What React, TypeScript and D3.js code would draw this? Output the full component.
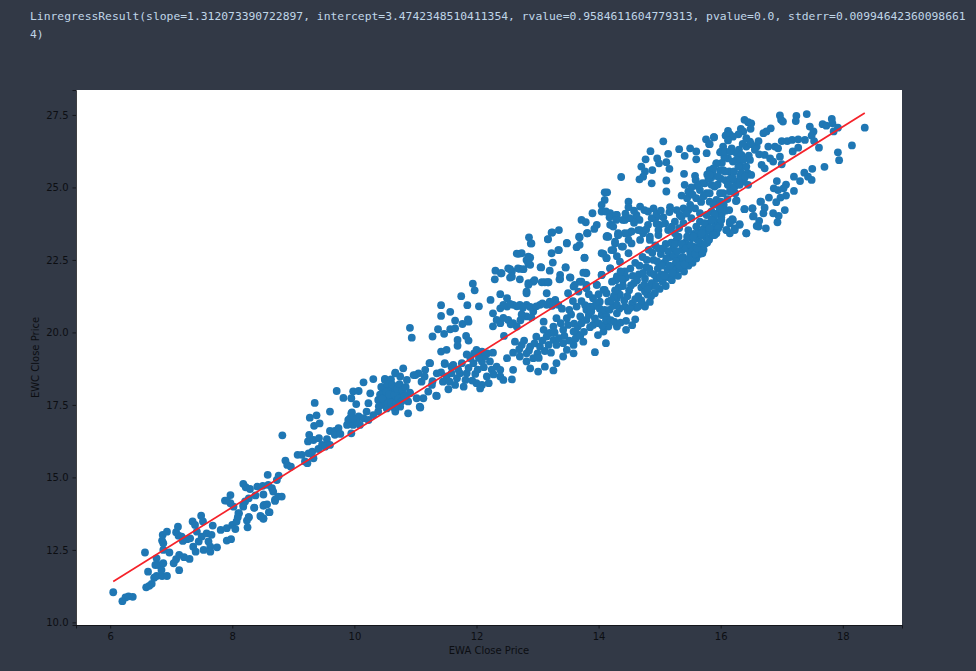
import React, { useRef, useEffect } from 'react';
import * as d3 from 'd3';

type Pair = [number, number];

// EWA close, EWC close, one list per stretch of the cloud
const tail: Pair[] = [
  [6.05,11.04],[6.2,10.73],[6.25,10.86],[6.3,10.9],[6.37,10.88],[6.57,12.41],[6.59,11.21],[6.64,11.26],[6.68,11.33],[6.62,11.75],
  [6.72,11.54],[6.76,11.6],[6.85,11.6],[6.93,11.6],[6.74,11.98],[6.76,12.21],[6.79,11.98],[6.87,12.04],[6.84,11.81],[6.87,12.5],
  [6.97,12.41],[6.85,12.82],[6.87,12.73],[6.86,13.02],[6.93,13.13],[7.08,13.11],[7.11,13.3],[7.12,12.99],[7.17,12.96],[7.19,12.81],
  [7.04,12.04],[7.08,12.18],[7.13,12.33],[7.13,11.8],[7.21,12.25],[7.3,12.19],[7.26,12.87],[7.31,12.9],[7.35,13.48],[7.39,13.36],
  [7.49,13.68],[7.52,13.48],[7.42,13.13],[7.36,12.61],[7.4,12.44],[7.45,12.79],[7.5,12.96],[7.53,12.5],[7.58,13.07],[7.66,13.02],
  [7.68,13.34],[7.61,12.79],[7.64,12.61],[7.64,12.44],[7.75,12.59],[7.81,13.19],[7.91,13.25],[7.91,12.82],[7.98,12.87],[8.0,13.36],
  [8.05,13.22],[8.07,13.48],[8.11,13.76],[8.18,13.99],[8.24,13.51],[8.27,13.63],[8.25,13.28],[8.36,13.95],[8.47,13.65],[8.51,13.57],
  [8.6,13.8],[8.52,14.05],[8.7,14.19],[7.88,14.2],[7.97,14.11],
];

const lowerMiddle: Pair[] = [
  [8.82,16.45],[9.27,17.06],[9.38,17.14],[9.6,17.27],[9.34,16.78],[9.43,16.86],[7.97,14.39],[7.91,14.2],[8.02,13.99],[8.1,13.77],
  [8.09,13.63],[8.27,13.63],[8.36,13.96],[8.51,14.41],[8.51,14.02],[8.57,14.07],[8.61,13.8],[8.46,13.67],[8.51,13.59],[8.18,14.78],
  [8.22,14.66],[8.29,14.6],[8.27,14.28],[8.18,14.05],[8.21,14.17],[8.38,14.38],[8.41,14.68],[8.5,14.71],[8.59,14.74],[8.58,15.09],
  [8.65,14.63],[8.67,14.51],[8.7,14.23],[8.75,14.34],[8.81,14.34],[8.73,14.91],[8.76,15.06],[8.87,15.58],[8.9,15.43],[8.96,15.37],
  [9.07,15.78],[9.14,15.78],[9.19,15.55],[9.23,15.49],[9.25,15.83],[9.31,15.89],[9.33,15.66],[9.41,15.98],[9.47,16.12],[9.55,16.32],
  [9.52,16.06],[9.6,16.12],[9.24,16.24],[9.26,16.47],[9.33,16.29],[9.42,16.35],[9.6,16.6],[9.68,16.6],[9.74,16.7],[9.68,16.47],
  [9.77,16.5],[9.88,16.81],[9.9,16.98],[9.95,17.21],[9.95,16.52],[9.98,16.81],[10.07,17.1],[10.09,16.81],[10.04,16.93],[10.15,17.04],
  [10.23,16.98],[10.2,17.27],[10.31,17.15],[10.39,17.27],[9.93,17.04],[9.98,17.04],[9.35,17.57],[9.71,17.98],[9.82,17.74],[9.98,17.97],
  [10.07,17.98],[10.15,18.28],[9.95,17.73],[10.03,17.53],[10.26,17.9],[10.31,18.39],[10.23,17.56],[9.96,17.24],
];

const middleChain: Pair[] = [
  [10.39,17.67],[10.48,17.9],[10.56,18.13],[10.67,18.13],[10.75,17.9],[10.64,17.79],[10.53,17.67],[10.45,17.5],[10.61,18.0],[10.5,18.36],
  [10.67,18.59],[10.8,18.76],[10.75,18.48],[10.86,18.36],[11.0,18.53],[11.05,18.59],[11.16,18.71],[11.23,18.94],[11.35,18.59],[10.91,17.9],
  [10.88,17.62],[10.75,17.44],[10.67,17.27],[10.88,17.21],[11.08,17.41],[11.13,17.73],[11.34,17.82],[11.21,17.96],[11.27,18.19],[11.54,18.04],
  [11.65,18.19],[11.79,18.13],[11.51,18.48],[11.59,18.59],[11.73,18.59],[11.84,18.59],[11.98,18.57],[12.09,18.19],[12.0,18.25],[12.06,18.07],
  [12.17,18.48],[12.2,18.25],[11.48,18.91],[11.62,18.88],[11.76,18.94],[11.9,19.11],[12.0,19.4],[12.09,19.34],[11.95,18.94],[12.09,19.0],
  [12.22,19.0],[12.27,19.3],[12.33,18.82],[12.39,18.71],[12.39,18.48],[12.44,18.36],[12.58,18.38],[12.6,18.71],[12.5,19.11],[12.6,19.3],
  [12.71,19.17],[12.82,19.0],[12.88,18.76],[13.01,18.65],[13.12,18.82],[13.26,18.69],[13.31,18.94],[13.42,19.17],[13.59,19.28],[13.94,19.32],
  [14.12,19.63],[14.45,20.09],[11.35,17.81],[11.07,17.44],[10.91,17.92],[11.02,17.73],[10.47,18.02],[10.58,18.07],[10.67,17.96],[10.75,17.84],
  [10.5,17.79],[10.58,17.67],[10.69,17.67],[10.47,17.56],[10.64,17.5],[10.53,17.38],[10.5,18.4],[10.6,18.38],[10.67,18.61],[10.97,18.53],
  [11.24,18.94],[11.48,18.94],[11.59,18.82],
  // packed knot around 10.6 and the run on to 12.4
  [10.42,17.85],[10.44,18.12],[10.46,17.72],[10.52,17.95],[10.54,18.22],[10.55,17.55],[10.57,17.86],[10.6,17.58],[10.62,18.2],[10.63,17.43],
  [10.66,17.85],[10.68,17.55],[10.7,18.05],[10.72,17.72],[10.74,18.22],[10.77,17.62],[10.79,18.0],[10.82,17.8],[10.84,18.12],[10.4,17.45],
  [11.1,18.3],[11.15,18.48],[11.28,18.32],[11.42,18.62],[11.45,18.3],[11.56,18.3],[11.68,18.42],[11.7,18.72],[11.82,18.36],[11.87,18.78],
  [11.93,18.34],[12.02,18.72],[12.12,18.8],[12.14,19.18],[12.18,19.28],[12.25,18.72],[12.28,18.55],[12.04,19.12],[11.84,19.24],[11.96,19.28],
];

const middleUpper: Pair[] = [
  [10.91,20.16],[10.94,19.82],[11.28,19.86],[11.37,20.11],[11.42,20.94],[11.42,20.57],[11.57,20.71],[11.65,20.41],[11.47,19.95],[11.57,20.11],
  [11.65,20.14],[11.77,20.29],[11.86,20.45],[11.87,20.37],[11.83,19.88],[11.87,19.72],[11.69,19.74],[11.69,19.54],[11.75,21.25],[11.85,20.94],
  [12.04,20.9],[11.94,21.68],[11.97,21.45],[11.51,19.4],[11.42,19.34],[12.23,21.12],[12.27,20.66],[12.27,20.21],[12.33,20.43],[12.39,20.32],
  [12.45,19.88],[12.39,21.32],[12.39,20.83],[12.5,21.18],[12.6,20.95],[12.5,20.89],[12.71,20.95],[12.82,20.95],[12.93,20.72],[12.82,20.55],
  [12.52,20.43],[12.6,20.32],[12.66,20.2],[12.82,21.35],[13.04,20.95],[13.15,20.95],[13.29,21.12],[13.34,20.95],[13.15,21.35],[12.85,21.7],
  [12.93,21.75],[13.07,21.73],[13.17,21.73],[12.71,21.83],[12.3,21.83],[12.31,22.13],[12.4,22.04],[12.52,22.21],[12.55,21.89],[12.58,22.1],
  [12.71,22.19],[13.06,22.24],[13.2,22.13],[13.46,22.24],[13.37,21.84],[13.53,21.9],[12.69,22.71],[12.74,22.73],[12.85,22.61],[12.85,22.41],
  [12.88,22.33],[13.23,22.73],[13.34,22.84],[13.25,22.41],[13.48,23.07],[13.64,22.94],[13.69,23.02],[13.77,22.58],[13.17,23.21],[12.86,23.28],
  [12.89,23.07],[13.23,23.44],[13.69,23.28],[13.82,23.42],[14.08,22.71],[14.13,22.56],[14.16,23.3],[14.27,23.07],[14.32,23.42],[14.21,22.84],
  [14.38,22.96],[14.49,23.19],[12.9,23.07],[13.17,23.22],[13.24,23.45],[13.35,23.53],[12.66,22.72],[12.88,22.58],[12.82,22.5],[12.85,22.38],
  [13.48,23.09],[13.35,22.84],[13.05,22.25],[13.46,22.24],[13.37,21.98],[13.36,21.83],[13.54,21.89],[13.68,23.3],[13.81,23.42],[13.72,23.88],
  [13.79,23.8],[13.97,23.71],[13.93,23.57],[14.14,23.33],[13.9,24.11],[14.05,24.17],[14.19,24.11],[14.3,24.05],[14.21,23.71],[14.43,23.88],
  [14.62,23.99],[14.95,23.99],[14.32,23.36],[14.49,23.42],[14.65,23.53],[14.73,23.42],[14.27,23.13],[14.24,22.84],[14.4,22.96],[14.54,23.07],
  [14.68,23.19],[14.84,23.19],[14.98,23.36],[14.05,22.73],[14.13,22.57],[14.3,22.63],[13.77,22.57],[14.49,22.73],[14.35,22.44],[14.19,22.21],
  [13.79,22.06],[14.05,21.98],[13.69,21.75],[13.61,21.64],[13.8,21.64],[13.97,21.64],[14.1,21.47],[12.95,21.8],[12.85,21.64],[12.55,22.18],
  [12.58,21.92],[12.68,22.21],[12.77,22.18],[12.41,22.04],[12.82,21.41],[13.12,21.73],[13.18,21.73],
  // flat run near 21 above the lower band
  [12.44,20.95],[12.55,20.98],[12.66,20.9],[12.76,20.85],[12.88,20.88],[12.98,20.9],[13.08,21.0],[13.2,21.06],[13.24,20.92],[12.74,20.62],
  [12.9,20.52],[12.44,20.5],[12.56,20.28],[12.72,20.42],
];

const lowerBand: Pair[] = [
  [12.63,19.68],[12.74,19.57],[12.88,19.51],[13.0,19.28],[12.82,19.28],[12.93,19.11],[13.04,19.51],[13.18,19.57],[13.26,19.74],[13.31,19.57],
  [13.42,19.63],[13.48,19.4],[13.59,19.57],[13.75,19.68],[13.64,19.97],[13.42,20.09],[13.26,20.2],[13.1,20.37],[13.1,20.09],[13.15,19.86],
  [13.31,20.49],[13.48,20.49],[13.59,20.03],[13.7,20.55],[13.8,20.78],[13.91,20.89],[13.8,20.43],[13.91,20.26],[13.99,19.91],[14.08,20.03],
  [14.16,20.2],[14.3,20.2],[14.05,20.6],[14.13,20.55],[14.3,20.66],[14.43,20.89],[13.64,20.89],[14.02,21.06],[14.16,21.06],[14.3,21.18],
  [14.08,21.47],[13.97,21.64],[14.13,21.35],[13.91,21.18],[13.67,21.41],[13.8,21.52],[13.59,21.58],[13.5,21.35],[13.72,21.75],[13.8,22.04],
  [13.75,22.06],[14.05,21.98],[14.19,22.21],[14.3,21.93],[14.4,21.81],
  // extra marks filling the band
  [12.7,19.42],[12.78,19.72],[12.86,19.38],[12.95,19.62],[12.98,19.85],[13.02,19.12],[13.08,19.72],[13.12,19.36],[13.2,19.98],[13.22,19.3],
  [13.28,20.0],[13.35,19.8],[13.38,20.32],[13.44,19.88],[13.5,20.26],[13.52,19.72],[13.55,20.62],[13.6,20.3],[13.62,19.78],[13.66,20.2],
  [13.7,19.88],[13.72,20.32],[13.76,20.02],[13.78,20.94],[13.84,20.6],[13.86,20.18],[13.88,20.72],[13.94,20.48],[13.96,21.0],[14.0,20.32],
  [14.02,20.82],[14.06,20.24],[14.1,20.78],[14.12,20.42],[14.18,20.78],[14.2,20.42],[14.24,20.92],[14.26,20.36],[14.34,20.82],[14.36,20.34],
  [13.4,20.82],[13.52,20.78],[13.58,21.08],[13.72,21.08],[13.84,21.32],[14.0,21.32],
];

const denseCore: Pair[] = [
  [14.3,20.95],[14.35,21.3],[14.4,21.6],[14.42,21.1],[14.45,21.9],[14.48,20.75],[14.5,21.45],[14.52,22.2],[14.55,21.0],[14.58,21.7],
  [14.6,22.4],[14.62,20.85],[14.65,21.25],[14.66,22.0],[14.7,21.55],[14.72,22.6],[14.74,20.95],[14.76,21.85],[14.78,22.25],[14.8,21.3],
  [14.82,22.85],[14.84,21.05],[14.85,22.05],[14.87,21.6],[14.9,22.5],[14.92,21.35],[14.93,23.0],[14.95,21.85],[14.97,22.2],[15.0,21.5],
  [15.02,22.7],[15.03,22.0],[15.05,21.75],[15.07,22.4],[15.1,21.6],[15.1,23.05],[15.13,22.15],[15.15,21.9],[15.17,22.6],[15.2,21.8],
  [15.22,22.9],[15.24,22.3],[15.26,22.0],[15.28,23.2],[15.3,21.95],[15.32,22.55],[15.35,22.2],[15.37,22.85],[15.4,22.1],[15.42,23.1],
  [15.44,22.45],[15.47,22.3],[15.5,22.75],[15.52,23.25],[15.54,22.4],[15.57,22.95],[15.6,22.55],[15.62,23.2],[15.65,22.7],[15.68,23.0],
  [15.72,22.85],[15.75,23.3],[15.78,23.1],[14.25,21.25],[14.2,21.1],[14.45,20.4],[14.6,20.45],[14.55,20.25],[15.7,22.73],[15.55,22.67],
  [15.36,22.44],[15.3,22.21],[15.22,22.15],[15.06,21.87],[14.87,21.7],[14.76,21.41],[14.76,20.89],[14.65,20.89],[14.51,20.83],[13.86,20.89],
  // second pass over the solid part of the band
  [14.38,21.85],[14.43,22.1],[14.47,21.25],[14.53,21.62],[14.56,21.95],[14.6,21.15],[14.63,21.8],[14.67,22.3],[14.7,21.1],[14.73,22.05],
  [14.75,21.65],[14.79,22.5],[14.81,21.5],[14.83,22.2],[14.86,21.25],[14.88,22.75],[14.91,22.0],[14.94,21.6],[14.96,22.45],[14.98,22.9],
  [15.01,21.9],[15.04,22.3],[15.06,22.9],[15.08,21.95],[15.11,22.55],[15.14,22.8],[15.16,22.3],[15.19,23.1],[15.21,22.05],[15.23,22.65],
  [15.25,23.05],[15.27,22.45],[15.29,22.8],[15.31,23.3],[15.33,22.3],[15.36,23.05],[15.38,22.6],[15.41,22.35],[15.43,22.9],[15.45,23.3],
  [15.48,22.55],[15.51,23.0],[15.53,22.8],[15.56,23.4],[15.58,22.7],[15.61,22.9],[15.63,23.45],[15.66,23.1],[15.69,23.35],[15.71,23.55],
  [15.74,23.05],[15.77,23.5],[15.79,23.75],[15.81,23.2],[15.84,23.6],[15.86,23.35],[15.89,23.85],[15.91,23.65],[15.94,24.1],[15.96,23.8],
  [15.98,24.3],[16.02,24.1],[16.05,24.4],[16.08,24.2],[16.11,24.6],[14.28,21.8],[14.33,21.55],[14.36,22.1],[14.22,21.75],[14.27,21.45],
];

const upperLeft: Pair[] = [
  [15.06,26.59],[14.37,25.36],[14.85,26.25],[14.77,25.97],[14.96,26.0],[14.99,25.83],[15.14,26.16],[15.11,25.87],[15.32,26.32],[15.5,26.35],
  [15.41,26.09],[15.6,26.24],[15.6,25.97],[15.77,26.18],[15.76,26.66],[15.81,26.5],[15.89,26.73],[14.7,25.72],[14.76,25.55],[14.88,25.6],
  [14.73,25.37],[14.67,25.28],[14.87,25.14],[15.16,25.64],[15.11,25.24],[15.11,24.86],[15.4,25.47],[15.58,25.4],[15.59,25.26],[15.41,25.09],
  [15.36,24.72],[15.47,24.86],[15.45,24.63],[15.6,24.63],[15.66,24.91],[15.74,25.14],[15.85,25.35],[15.82,25.6],[15.93,25.83],[16.04,25.6],
  [16.01,26.24],[16.12,26.0],[16.1,26.81],[16.18,26.35],[15.77,24.8],[15.9,25.03],[15.82,24.51],[15.99,24.8],[16.12,25.09],[16.2,25.26],
  [16.26,24.55],[16.39,24.25],[16.52,24.28],[16.65,24.51],[16.54,24.02],[16.59,23.67],[16.42,23.42],[16.31,23.71],[16.2,23.88],[16.15,23.76],
  [16.1,23.53],[16.23,23.53],[16.01,23.97],[15.99,23.71],[15.93,23.53],[15.9,23.36],[14.1,24.83],[14.14,24.83],[14.1,24.57],[14.05,24.4],
  [14.12,24.17],[14.18,23.97],[14.29,24.05],[14.49,24.51],[14.49,24.32],[14.68,24.34],[14.81,24.17],[14.9,24.28],[14.29,23.88],[14.4,23.88],
  [14.51,23.94],[14.62,24.05],[14.67,23.88],[14.19,23.71],[14.24,23.65],[14.87,23.94],[15.06,23.97],[15.17,24.32],[15.28,24.22],[15.39,24.28],
  [15.25,23.82],[15.36,23.99],[15.47,24.22],[15.58,24.28],[15.66,24.11],[15.0,23.71],[15.09,23.76],[14.98,23.53],[15.14,23.53],[14.81,23.71],
  [14.68,23.53],[14.54,23.48],[14.43,23.42],[14.32,23.36],[14.13,23.3],[14.84,23.3],[15.25,23.42],[15.39,23.77],[15.52,23.94],[15.66,23.82],
  [15.77,24.05],[15.85,24.17],[15.47,23.53],[15.6,23.65],[15.74,23.77],[15.88,23.94],[15.55,23.3],[15.69,23.42],[15.82,23.53],[16.31,25.95],
  [16.42,26.41],[16.59,26.41],
  // knots at the top of the band
  [15.5,24.4],[15.54,24.75],[15.68,24.5],[15.72,24.7],[15.8,25.3],[15.87,25.5],[15.95,25.1],[16.0,25.3],[16.02,25.85],[16.06,26.05],
  [16.08,25.25],[16.14,25.55],[16.16,25.3],[16.22,25.55],[16.24,24.8],[16.28,25.2],[16.3,26.3],[16.32,25.4],[16.36,26.5],[16.38,25.2],
  [16.44,25.5],[16.46,26.1],[15.7,25.15],[15.62,25.05],[15.52,25.0],[15.78,25.45],[15.16,24.15],[15.33,24.05],[15.44,24.1],[14.95,24.1],
  [15.02,24.2],[14.75,24.22],[14.58,24.2],[14.44,24.1],[14.95,23.75],[15.2,23.65],[15.32,23.6],[14.58,23.78],[14.78,23.55],
];

const upperRight: Pair[] = [
  [17.41,27.53],[17.24,27.47],[17.23,27.29],[16.97,27.48],[16.99,27.33],[17.02,27.27],[16.39,27.33],[16.45,27.25],[16.5,27.21],[16.49,27.02],
  [16.12,26.95],[16.08,26.79],[15.89,26.73],[16.15,26.83],[16.33,27.02],[16.37,26.93],[16.29,26.83],[16.2,26.75],[16.12,26.62],[15.82,26.49],
  [16.04,26.41],[15.99,26.21],[16.07,26.24],[16.16,26.24],[16.26,26.18],[16.34,26.12],[16.42,26.7],[16.48,26.58],[16.5,26.49],[16.62,26.6],
  [16.7,26.87],[16.75,26.93],[16.82,27.04],[16.56,26.3],[16.63,26.14],[16.72,26.12],[16.78,26.41],[16.89,26.41],[16.94,26.35],[17.0,26.6],
  [17.09,26.6],[17.17,26.64],[17.27,26.66],[17.38,26.64],[17.46,27.1],[17.52,26.93],[17.49,26.79],[17.53,26.6],[17.61,26.37],[17.67,27.18],
  [17.73,27.13],[17.82,27.36],[17.83,27.21],[17.85,26.93],[17.92,27.06],[18.36,27.06],[18.15,26.45],[17.92,26.21],[17.94,25.94],[17.7,25.71],
  [17.5,25.64],[17.37,25.51],[17.43,25.37],[17.49,25.26],[17.3,25.22],[17.2,25.37],[17.2,24.88],[17.07,25.1],[16.92,25.22],[16.87,24.97],
  [16.94,24.91],[17.03,24.97],[17.07,24.72],[16.98,24.65],[16.91,24.49],[16.79,24.65],[16.66,24.51],[17.05,24.22],[16.72,24.3],[16.7,24.11],
  [16.52,24.28],[16.39,24.25],[16.53,24.0],[16.86,24.11],[16.95,24.02],[16.93,23.8],[16.63,23.85],[16.62,23.65],[16.74,23.59],[16.42,23.42],
  [16.31,23.73],[16.23,23.59],[16.19,23.91],[16.15,23.82],[16.15,23.42],[16.09,23.53],[16.14,24.22],[16.01,23.88],[15.96,23.59],[15.93,23.42],
  [15.88,23.36],[16.25,24.53],[16.67,25.78],[16.72,25.66],[16.81,26.0],[16.86,25.89],[16.97,26.06],[17.0,25.8],[17.18,26.24],[17.27,26.37],
  [16.5,25.43],[16.45,25.09],[16.37,25.95],[16.34,25.72],[16.42,25.72],[16.29,25.72],[16.26,25.95],[16.48,25.95],[16.2,25.89],[15.93,25.83],
  [15.99,25.6],[15.88,25.66],[16.07,25.55],[15.96,25.37],[15.82,25.43],[16.34,25.49],[16.4,25.37],[16.2,25.32],[16.12,25.09],[16.23,25.03],
  [16.31,25.09],[16.04,24.8],[16.15,24.86],[15.93,24.57],[16.0,24.51],[15.88,24.4],[15.99,24.28],[15.85,25.09],[15.82,24.8],[15.9,24.05],
  [15.85,23.88],[15.82,23.6],
];

const points: Pair[] = [...tail, ...lowerMiddle, ...middleChain, ...middleUpper, ...lowerBand, ...denseCore, ...upperLeft, ...upperRight];

const slope = 1.312073390722897;
const intercept = 3.4742348510411354;
const fitRange = [6.05, 18.36];

const xTicks = [6, 8, 10, 12, 14, 16, 18];
const yTicks = [10, 12.5, 15, 17.5, 20, 22.5, 25, 27.5];

const resultLine1 = 'LinregressResult(slope=1.312073390722897, intercept=3.4742348510411354, rvalue=0.9584611604779313, pvalue=0.0, stderr=0.00994642360098661';
const resultLine2 = '4)';

const App: React.FC = () => {
  const ref = useRef<SVGSVGElement>(null);

  useEffect(() => {
    const svg = d3.select(ref.current);
    svg.selectAll('*').remove();

    const left = 76, right = 902, top = 90, bottom = 625;

    const x = d3.scaleLinear().domain([5.44, 18.97]).range([left, right]);
    const y = d3.scaleLinear().domain([9.91, 28.36]).range([bottom, top]);

    svg.append('rect').attr('width', 976).attr('height', 671).attr('fill', '#323946');

    // output cell text
    svg.selectAll('.cell-text')
      .data([resultLine1, resultLine2])
      .enter()
      .append('text')
      .attr('x', 30)
      .attr('y', (_, i) => 20 + i * 18)
      .style('font-family', '"DejaVu Sans Mono", monospace')
      .style('font-size', '11.35px')
      .style('fill', '#c0d6e8')
      .text(d => d);

    svg.append('rect')
      .attr('x', left).attr('y', top)
      .attr('width', right - left).attr('height', bottom - top)
      .attr('fill', 'white');

    svg.selectAll('.dot')
      .data(points)
      .enter()
      .append('circle')
      .attr('class', 'dot')
      .attr('cx', d => x(d[0]))
      .attr('cy', d => y(d[1]))
      .attr('r', 3.9)
      .attr('fill', '#1f77b4');

    const fit = d3.line<number>().x(d => x(d)).y(d => y(slope * d + intercept));
    svg.append('path')
      .attr('d', fit(fitRange))
      .attr('fill', 'none')
      .attr('stroke', '#f5222a')
      .attr('stroke-width', 1.7);

    const xAxis = svg.append('g')
      .attr('transform', `translate(0,${bottom})`)
      .call(d3.axisBottom(x).tickValues(xTicks).tickFormat(d3.format('d')).tickSize(3.5).tickPadding(4));
    const yAxis = svg.append('g')
      .attr('transform', `translate(${left},0)`)
      .call(d3.axisLeft(y).tickValues(yTicks).tickFormat(d3.format('.1f')).tickSize(3.5).tickPadding(4));

    [xAxis, yAxis].forEach(axis => {
      axis.selectAll('text')
        .style('font-family', '"DejaVu Sans", sans-serif')
        .style('font-size', '10px')
        .style('fill', '#0c0e12');
      axis.selectAll('line').attr('stroke', '#0c0e12').attr('stroke-width', 0.8);
      axis.select('.domain').attr('stroke', '#0c0e12').attr('stroke-width', 0.8);
    });

    svg.append('text')
      .attr('x', (left + right) / 2)
      .attr('y', 654)
      .attr('text-anchor', 'middle')
      .style('font-family', '"DejaVu Sans", sans-serif')
      .style('font-size', '10px')
      .style('fill', '#0c0e12')
      .text('EWA Close Price');

    svg.append('text')
      .attr('transform', `translate(39,${(top + bottom) / 2}) rotate(-90)`)
      .attr('text-anchor', 'middle')
      .style('font-family', '"DejaVu Sans", sans-serif')
      .style('font-size', '10px')
      .style('fill', '#0c0e12')
      .text('EWC Close Price');
  }, []);

  return (
    <div style={{ position: 'absolute', left: 0, top: 0 }}>
      <svg ref={ref} width={976} height={671} style={{ display: 'block' }} />
    </div>
  );
};

export default App;
